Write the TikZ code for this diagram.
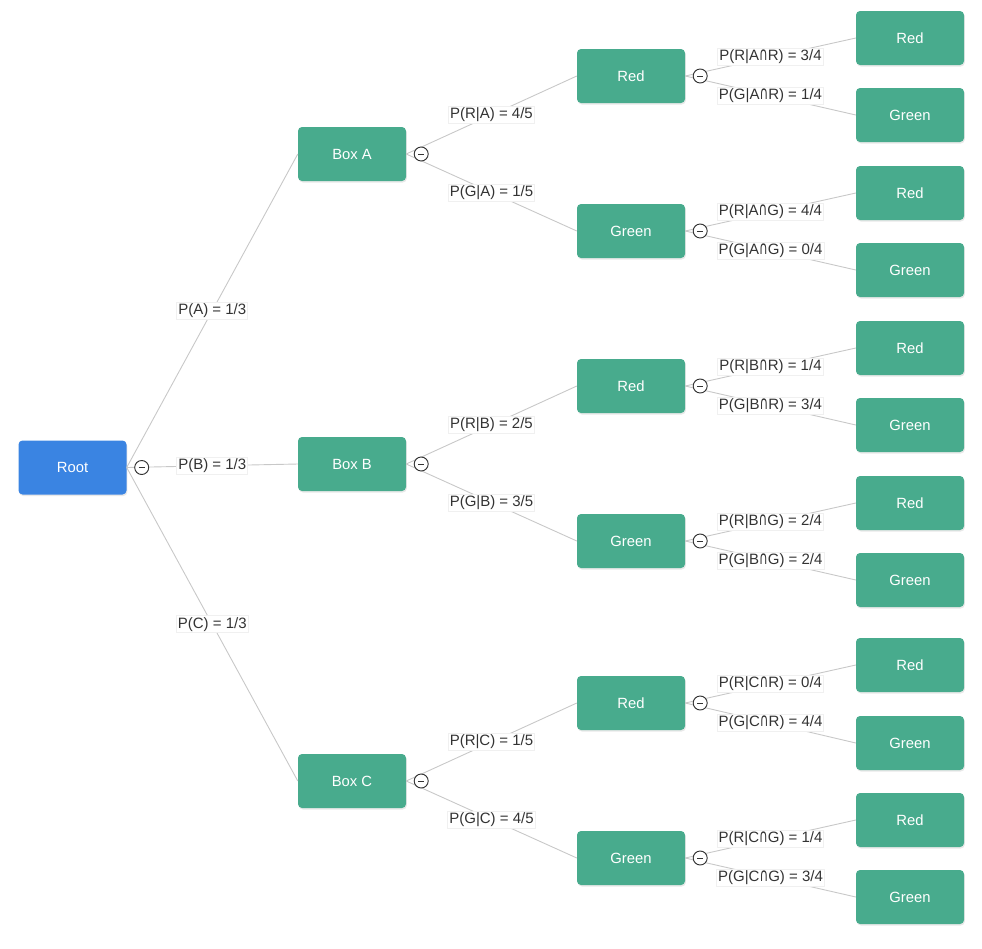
\documentclass[tikz,border=0pt]{standalone}
\usepackage{fontspec}
\usepackage{graphicx}
\setmainfont{Liberation Sans}
\newfontfamily\symfnt{DejaVu Sans}
\newcommand\isect{\resizebox{0.58em}{0.71em}{\symfnt ∩}}
\usetikzlibrary{shadows}
\definecolor{boxgreen}{RGB}{72,171,141}
\definecolor{rootblue}{RGB}{58,132,226}
\definecolor{linegray}{RGB}{200,200,200}
\definecolor{textgray}{RGB}{51,51,51}
\tikzset{
  box/.style={rectangle, rounded corners=4pt, minimum width=108pt, minimum height=54pt,
    fill=boxgreen, text=white, font=\fontsize{14.8}{17}\selectfont,
    drop shadow={opacity=0.18, shadow xshift=0.8pt, shadow yshift=-1.5pt}},
  rootbox/.style={box, fill=rootblue},
  link/.style={draw=linegray, line width=0.9pt},
  plabel/.style={fill=white, text=textgray, font=\fontsize{15}{17}\selectfont,
    inner sep=1.5pt, draw=black!6},
  toggle/.style={circle, draw=black!80, fill=white, minimum size=14pt, inner sep=0pt,
    line width=0.95pt,
    path picture={\draw[line width=0.95pt, black!80] ([xshift=-3.2pt]path picture bounding box.center) -- ([xshift=3.2pt]path picture bounding box.center);}}
}
\newcommand\lnk[3]{\draw[link] (#1.east) -- node[plabel]{#3} (#2.west);}
\newcommand\tog[1]{\node[toggle] (t#1) at ([xshift=15pt]#1.east) {};}
\begin{document}
\begin{tikzpicture}[x=1pt,y=-1pt]
\useasboundingbox (0,0) rectangle (982,948);
% nodes
\node[rootbox] (root) at (72.5,467.5) {Root};
\node[box] (A) at (352,154) {Box A};
\node[box] (B) at (352,464) {Box B};
\node[box] (C) at (352,781) {Box C};
\node[box] (AR) at (631,76) {Red};
\node[box] (AG) at (631,231) {Green};
\node[box] (BR) at (631,386) {Red};
\node[box] (BG) at (631,541) {Green};
\node[box] (CR) at (631,703) {Red};
\node[box] (CG) at (631,858) {Green};
\node[box] (ARR) at (910,38) {Red};
\node[box] (ARG) at (910,115) {Green};
\node[box] (AGR) at (910,193) {Red};
\node[box] (AGG) at (910,270) {Green};
\node[box] (BRR) at (910,348) {Red};
\node[box] (BRG) at (910,425) {Green};
\node[box] (BGR) at (910,503) {Red};
\node[box] (BGG) at (910,580) {Green};
\node[box] (CRR) at (910,665) {Red};
\node[box] (CRG) at (910,743) {Green};
\node[box] (CGR) at (910,820) {Red};
\node[box] (CGG) at (910,897) {Green};
% edges
\lnk{root}{A}{P(A) = 1/3}
\lnk{root}{B}{P(B) = 1/3}
\lnk{root}{C}{P(C) = 1/3}
\lnk{A}{AR}{P(R|A) = 4/5}
\lnk{A}{AG}{P(G|A) = 1/5}
\lnk{B}{BR}{P(R|B) = 2/5}
\lnk{B}{BG}{P(G|B) = 3/5}
\lnk{C}{CR}{P(R|C) = 1/5}
\lnk{C}{CG}{P(G|C) = 4/5}
\lnk{AR}{ARR}{P(R|A\isect R) = 3/4}
\lnk{AR}{ARG}{P(G|A\isect R) = 1/4}
\lnk{AG}{AGR}{P(R|A\isect G) = 4/4}
\lnk{AG}{AGG}{P(G|A\isect G) = 0/4}
\lnk{BR}{BRR}{P(R|B\isect R) = 1/4}
\lnk{BR}{BRG}{P(G|B\isect R) = 3/4}
\lnk{BG}{BGR}{P(R|B\isect G) = 2/4}
\lnk{BG}{BGG}{P(G|B\isect G) = 2/4}
\lnk{CR}{CRR}{P(R|C\isect R) = 0/4}
\lnk{CR}{CRG}{P(G|C\isect R) = 4/4}
\lnk{CG}{CGR}{P(R|C\isect G) = 1/4}
\lnk{CG}{CGG}{P(G|C\isect G) = 3/4}
% toggles
\tog{root}
\tog{A}
\tog{B}
\tog{C}
\tog{AR}
\tog{AG}
\tog{BR}
\tog{BG}
\tog{CR}
\tog{CG}
\end{tikzpicture}
\end{document}
